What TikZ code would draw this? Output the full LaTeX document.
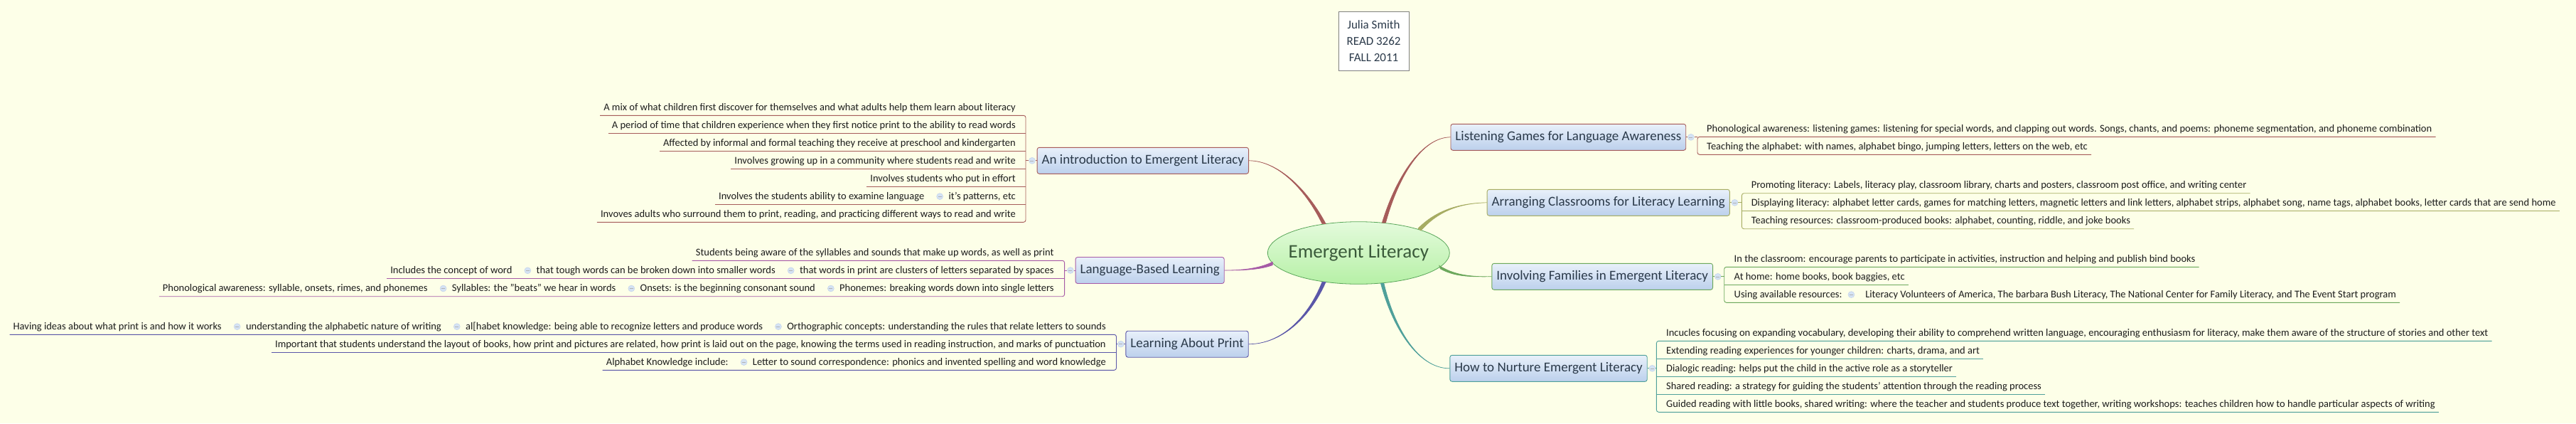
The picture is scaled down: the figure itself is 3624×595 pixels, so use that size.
\documentclass[tikz,border=0pt]{standalone}
\usepackage{fontspec}
\setmainfont{Carlito}
\usetikzlibrary{positioning, shapes.geometric}
\definecolor{paper}{HTML}{FDFFE8}
\definecolor{leafink}{HTML}{1C1C1C}
\definecolor{topicink}{HTML}{2B3A4A}
\definecolor{coreink}{HTML}{3A5A3A}
\definecolor{redline}{HTML}{A65C5A}
\definecolor{oliveline}{HTML}{A6AC62}
\definecolor{greenline}{HTML}{6CA85C}
\definecolor{tealline}{HTML}{4FA09A}
\definecolor{indigoline}{HTML}{5A56A8}
\definecolor{purpleline}{HTML}{A65AA6}
\definecolor{foldblue}{HTML}{D4E2F4}
\definecolor{foldedge}{HTML}{BFD0E8}
\definecolor{topictop}{HTML}{E8F0FA}
\definecolor{topicbottom}{HTML}{BCD0EC}
\definecolor{coretop}{HTML}{E4FBDC}
\definecolor{corebottom}{HTML}{B6F0A6}
\newcommand{\leafsize}{\fontsize{14.5}{16}\selectfont}
\newcommand{\topicsize}{\fontsize{19}{22}\selectfont}
\newcommand{\taper}[7]{\fill[#1] (#2) .. controls (#3) and ([shift={(#6*0.6,#7*0.6)}]#4) .. ([shift={(#6,#7)}]#5) -- ([shift={(-#6,-#7)}]#5) .. controls ([shift={(-#6*0.6,-#7*0.6)}]#4) and (#3) .. (#2) -- cycle;}
\tikzset {
    x=1pt,
    y=-1pt,
    every node/.style={inner sep=0pt},
    leaf/.style={inner xsep=5pt, inner ysep=0pt, text height=15pt, text depth=7pt, font=\leafsize, text=leafink},
    leafl/.style={leaf, anchor=south east},
    leafr/.style={leaf, anchor=south west},
    foldmark/.style={circle, minimum size=9pt, fill=foldblue, draw=foldedge, line width=.4pt,
        path picture={\draw[gray!60, line width=.6pt] ([xshift=-2.5pt]path picture bounding box.center) -- ([xshift=2.5pt]path picture bounding box.center);}},
    topic/.style={draw, rounded corners=3pt, line width=.9pt, minimum height=37pt, inner xsep=6.5pt,
        top color=topictop, bottom color=topicbottom, font=\topicsize, text=topicink},
    rulew/.style={line width=.9pt},
    branch/.style={draw, line width=.7pt}
}
\begin{document}
\begin{tikzpicture}
\useasboundingbox[fill=paper] (0,0) rectangle (3624,595);

\node[ellipse, draw=gray!70!green, line width=.8pt, minimum width=256pt, minimum height=87.6pt,
    top color=coretop, bottom color=corebottom,
    label={[font=\fontsize{27}{32}\selectfont, text=coreink]center:Emergent Literacy}] (core) at (1911.3,355.5) {};
\node[draw=gray, fill=white, minimum width=99pt, minimum height=83pt, align=center, text=topicink,
    font=\fontsize{17}{23}\selectfont] (note) at (1932.6,57.6) {Julia Smith\\READ 3262\\FALL 2011};

\node[topic, draw=redline, anchor=east] (intro) at (1757,225.8) {An introduction to Emergent Literacy};
\node[foldmark, left=2pt of intro] (introfold) {};
\coordinate (introbus) at (1443,225.8);
\node[leafl] (i1) at (1434,162.3) {A mix of what children first discover for themselves and what adults help them learn about literacy};
\node[leafl] (i2) at (1434,187.3) {A period of time that children experience when they first notice print to the ability to read words};
\node[leafl] (i3) at (1434,212.3) {Affected by informal and formal teaching they receive at preschool and kindergarten};
\node[leafl] (i4) at (1434,237.3) {Involves growing up in a community where students read and write};
\node[leafl] (i5) at (1434,262.3) {Involves students who put in effort};
\node[leafl] (i6b) at (1434,287.3) {it's patterns, etc};
\node[foldmark, left=2.5pt of i6b] (i6f) {};
\node[leaf, left=12pt of i6f] (i6) {Involves the students ability to examine language};
\node[leafl] (i7) at (1434,312.3) {Invoves adults who surround  them to print, reading, and practicing different ways to read and write};
\draw[redline, rulew, rounded corners=3pt] (i1.south west) -- (i1.south west -| introbus) -- (i7.south west -| introbus) -- (i7.south west);
\foreach \n in {i2, i3, i4, i5, i6}
    \draw[redline, rulew] (\n.south west) -- (\n.south west -| introbus);
\draw[redline, rulew] (introbus) -- (introfold) -- (intro);

\node[topic, draw=purpleline, anchor=east] (lang) at (1722.7,380) {Language-Based Learning};
\node[foldmark, left=2pt of lang] (langfold) {};
\coordinate (langbus) at (1497.6,380);
\node[leafl] (g1) at (1487.7,366.3) {Students being aware of the syllables and sounds that make up words, as well as print};
\node[leafl] (g2c) at (1487.7,391.5) {that words in print are clusters of letters separated by spaces};
\node[foldmark, left=2.5pt of g2c] (g2f) {};
\node[leaf, left=12pt of g2f] (g2b) {that tough words can be broken down into smaller words};
\node[foldmark, left=2.5pt of g2b] (g2e) {};
\node[leaf, left=12pt of g2e] (g2) {Includes the concept of word};
\node[leafl] (g3d) at (1487.7,416.7) {Phonemes: breaking words down into single letters};
\node[foldmark, left=2.5pt of g3d] (g3f) {};
\node[leaf, left=12pt of g3f] (g3c) {Onsets: is the beginning consonant sound};
\node[foldmark, left=2.5pt of g3c] (g3e) {};
\node[leaf, left=12pt of g3e] (g3b) {Syllables: the "beats" we hear in words};
\node[foldmark, left=2.5pt of g3b] (g3a) {};
\node[leaf, left=12pt of g3a] (g3) {Phonological awareness: syllable, onsets, rimes, and phonemes};
\draw[purpleline, rulew, rounded corners=3pt] (g1.south west) -- (g1.south west -| langbus) -- (g3.south west -| langbus) -- (g3.south west);
\draw[purpleline, rulew] (g2.south west) -- (g2.south west -| langbus);
\draw[purpleline, rulew] (langbus) -- (langfold) -- (lang);

\node[topic, draw=indigoline, anchor=east] (print) at (1756.7,483.7) {Learning About Print};
\node[foldmark, left=2pt of print] (printfold) {};
\coordinate (printbus) at (1570.5,483.7);
\node[leafl] (p1d) at (1561,470.3) {Orthographic concepts: understanding the rules that relate letters to sounds};
\node[foldmark, left=2.5pt of p1d] (p1f) {};
\node[leaf, left=12pt of p1f] (p1c) {al[habet knowledge: being able to recognize letters and produce words};
\node[foldmark, left=2.5pt of p1c] (p1e) {};
\node[leaf, left=12pt of p1e] (p1b) {understanding the alphabetic nature of writing};
\node[foldmark, left=2.5pt of p1b] (p1a) {};
\node[leaf, left=12pt of p1a] (p1) {Having ideas about what print is and how it works};
\node[leafl] (p2) at (1561,495.3) {Important that students understand the layout of books, how print and pictures are related, how print is laid out on the page, knowing the terms used in reading instruction, and marks of punctuation};
\node[leafl] (p3b) at (1561,520.3) {Letter to sound correspondence: phonics and invented spelling and word knowledge};
\node[foldmark, left=2.5pt of p3b] (p3f) {};
\node[leaf, left=12pt of p3f] (p3) {Alphabet Knowledge include:};
\draw[indigoline, rulew, rounded corners=3pt] (p1.south west) -- (p1.south west -| printbus) -- (p3.south west -| printbus) -- (p3.south west);
\draw[indigoline, rulew] (p2.south west) -- (p2.south west -| printbus);
\draw[indigoline, rulew] (printbus) -- (printfold) -- (print);

\node[topic, draw=redline, anchor=west] (games) at (2040.5,192.8) {Listening Games for Language Awareness};
\node[foldmark, right=2pt of games] (gamesfold) {};
\coordinate (gamesbus) at (2388,192.8);
\node[leafr] (l1) at (2396,192.3) {Phonological awareness: listening games: listening for special words, and clapping out words. Songs, chants, and poems: phoneme segmentation, and phoneme combination};
\node[leafr] (l2) at (2396,217.3) {Teaching the alphabet: with names, alphabet bingo, jumping letters, letters on the web, etc};
\draw[redline, rulew, rounded corners=3pt] (l1.south east) -- (l1.south east -| gamesbus) -- (l2.south east -| gamesbus) -- (l2.south east);
\draw[redline, rulew] (gamesbus) -- (gamesfold) -- (games);

\node[topic, draw=oliveline, anchor=west] (room) at (2091.7,284.8) {Arranging Classrooms for Literacy Learning};
\node[foldmark, right=2pt of room] (roomfold) {};
\coordinate (roombus) at (2450.4,284.8);
\node[leafr] (a1) at (2458.6,271.7) {Promoting literacy: Labels, literacy play, classroom library, charts and posters, classroom post office, and writing center};
\node[leafr] (a2) at (2458.6,296.7) {Displaying literacy:  alphabet letter cards, games for matching letters, magnetic letters and link letters, alphabet strips, alphabet song, name tags, alphabet books, letter cards that are send home};
\node[leafr] (a3) at (2458.6,321.7) {Teaching resources: classroom-produced books: alphabet, counting, riddle, and joke books};
\draw[oliveline, rulew, rounded corners=3pt] (a1.south east) -- (a1.south east -| roombus) -- (a3.south east -| roombus) -- (a3.south east);
\draw[oliveline, rulew] (a2.south east) -- (a2.south east -| roombus);
\draw[oliveline, rulew] (roombus) -- (roomfold) -- (room);

\node[topic, draw=greenline, anchor=west] (home) at (2098.4,388.8) {Involving Families in Emergent Literacy};
\node[foldmark, right=2pt of home] (homefold) {};
\coordinate (homebus) at (2425.7,388.8);
\node[leafr] (f1) at (2434.5,375.3) {In the classroom: encourage parents to participate in activities, instruction and helping and publish bind books};
\node[leafr] (f2) at (2434.5,400.3) {At home: home books, book baggies, etc};
\node[leafr] (f3) at (2434.5,425.3) {Using available resources:};
\node[foldmark, right=3pt of f3] (f3f) {};
\node[leaf, right=10pt of f3f] (f3b) {Literacy Volunteers of America, The barbara Bush Literacy, The National Center for Family Literacy, and The Event Start program};
\draw[greenline, rulew, rounded corners=3pt] (f1.south east) -- (f1.south east -| homebus) -- (f3b.south east -| homebus) -- (f3b.south east);
\draw[greenline, rulew] (f2.south east) -- (f2.south east -| homebus);
\draw[greenline, rulew] (homebus) -- (homefold) -- (home);

\node[topic, draw=tealline, anchor=west] (nurture) at (2039.4,517.8) {How to Nurture Emergent Literacy};
\node[foldmark, right=2pt of nurture] (nurturefold) {};
\coordinate (nurturebus) at (2330.4,517.8);
\node[leafr] (h1) at (2339,479.3) {Incucles focusing on expanding vocabulary, developing their ability to comprehend written language, encouraging enthusiasm for literacy, make them aware of the structure of stories and other text};
\node[leafr] (h2) at (2339,504.3) {Extending reading experiences for younger children: charts, drama, and art};
\node[leafr] (h3) at (2339,529.3) {Dialogic reading: helps put the child in the active role as a storyteller};
\node[leafr] (h4) at (2339,554.3) {Shared reading: a strategy for guiding the students' attention through the reading process};
\node[leafr] (h5) at (2339,579.3) {Guided reading with little books, shared writing: where the teacher and students produce text together, writing workshops: teaches children how to handle particular aspects of writing};
\draw[tealline, rulew, rounded corners=3pt] (h1.south east) -- (h1.south east -| nurturebus) -- (h5.south east -| nurturebus) -- (h5.south east);
\foreach \n in {h2, h3, h4}
    \draw[tealline, rulew] (\n.south east) -- (\n.south east -| nurturebus);
\draw[tealline, rulew] (nurturebus) -- (nurturefold) -- (nurture);

\taper{redline, branch}{intro.east}{1800,226}{1840,270}{core.140}{2.5}{0}
\taper{redline, branch}{games.west}{2000,193}{1965,250}{core.50.6}{2.5}{0}
\taper{oliveline, branch}{room.west}{2050,285.7}{2020,298}{core.21.2}{2}{1.5}
\taper{purpleline, branch}{lang.east}{1755,380}{1775,377}{core.187.6}{0}{2.2}
\taper{greenline, branch}{home.west}{2065,389.3}{2045,387}{core.-10.6}{.8}{2.2}
\taper{indigoline, branch}{print.east}{1800,483.7}{1840,450}{core.220.4}{2.5}{0}
\taper{tealline, branch}{nurture.west}{1995,518.3}{1960,460}{core.-52}{2.2}{0}
\end{tikzpicture}
\end{document}
